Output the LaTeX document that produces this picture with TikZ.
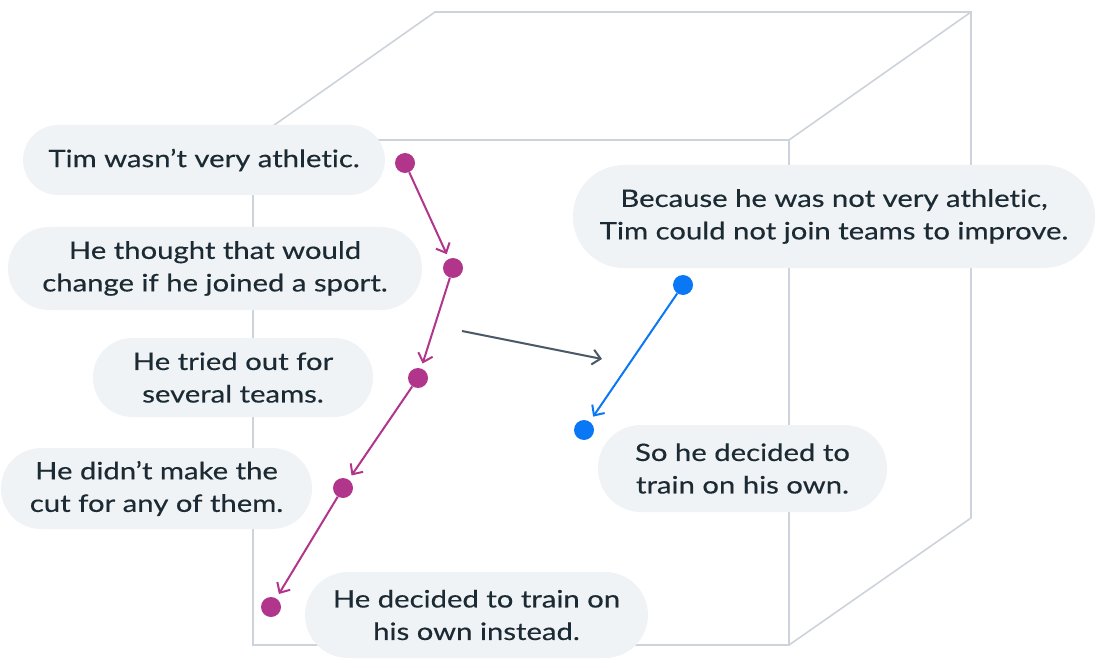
\documentclass[tikz,border=0pt]{standalone}
\usepackage{fontspec}
\setmainfont{Lato}[FakeStretch=1.22, FakeBold=0.4, Ligatures={NoCommon}]
\usetikzlibrary{arrows.meta}
\definecolor{cubeline}{HTML}{CDD3DA}
\definecolor{bubblefill}{HTML}{F0F3F6}
\definecolor{txt}{HTML}{1C2B33}
\definecolor{mag}{HTML}{B0358B}
\definecolor{blu}{HTML}{0A78F5}
\definecolor{grayarrow}{HTML}{4B5966}
\tikzset{
  cube/.style={draw=cubeline, line width=1.6pt, line join=miter},
  bubble/.style={fill=bubblefill, inner sep=0pt, align=center, text=txt,
    font=\fontsize{24}{32.5}\selectfont},
  magdot/.style={circle, fill=mag, minimum size=20pt, inner sep=0pt},
  bludot/.style={circle, fill=blu, minimum size=20pt, inner sep=0pt},
  magarrow/.style={draw=mag, line width=2pt, shorten >=5pt,
    -{Straight Barb[length=8pt,width=15pt,line width=2pt]}},
  bluarrow/.style={draw=blu, line width=2pt, shorten >=6pt,
    -{Straight Barb[length=8pt,width=15pt,line width=2pt]}},
  grayarr/.style={draw=grayarrow, line width=2pt,
    -{Straight Barb[length=8pt,width=15pt,line width=2pt]}},
}
\begin{document}
\begin{tikzpicture}[x=1pt,y=-1pt]
\useasboundingbox (0,0) rectangle (1102,668);
% cube
\draw[cube] (253,140) -- (435,12) -- (971,12) -- (971,518) -- (789,645);
\draw[cube] (789,140) -- (971,12);
\draw[cube] (253,140) rectangle (789,645);
% bubbles
\node[bubble, minimum width=362pt, minimum height=70pt, rounded corners=35pt] (t1) at (204,160) {Tim wasn’t very athletic.};
\node[bubble, minimum width=414pt, minimum height=83pt, rounded corners=41pt] (t2) at (215,268.5) {He thought that would\\change if he joined a sport.};
\node[bubble, minimum width=280pt, minimum height=79pt, rounded corners=39pt] (t3) at (233,377.5) {He tried out for\\several teams.};
\node[bubble, minimum width=311pt, minimum height=81pt, rounded corners=40pt] (t4) at (156.5,488.5) {He didn’t make the\\cut for any of them.};
\node[bubble, minimum width=343pt, minimum height=86pt, rounded corners=43pt] (t5) at (476.5,615) {He decided to train on\\his own instead.};
\node[bubble, minimum width=522pt, minimum height=103pt, rounded corners=51pt] (t6) at (834,216.5) {Because he was not very athletic,\\Tim could not join teams to improve.};
\node[bubble, minimum width=289pt, minimum height=87pt, rounded corners=43pt] (t7) at (742.5,468.5) {So he decided to\\train on his own.};
% dots
\node[magdot] (d1) at (405,163) {};
\node[magdot] (d2) at (453,268) {};
\node[magdot] (d3) at (418,378) {};
\node[magdot] (d4) at (343,488) {};
\node[magdot] (d5) at (271,607) {};
\node[bludot] (b1) at (683,285) {};
\node[bludot] (b2) at (584,430) {};
% arrows
\draw[magarrow] (d1) -- (d2);
\draw[magarrow] (d2) -- (d3);
\draw[magarrow] (d3) -- (d4);
\draw[magarrow] (d4) -- (d5);
\draw[bluarrow] (b1) -- (b2);
\coordinate (g1) at (462,331);
\coordinate (g2) at (602,359);
\draw[grayarr] (g1) -- (g2);
\end{tikzpicture}
\end{document}
